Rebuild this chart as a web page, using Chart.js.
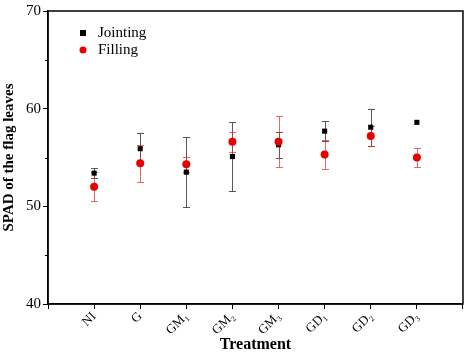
<!DOCTYPE html>
<html>
<head>
<meta charset="utf-8">
<script src="https://cdn.jsdelivr.net/npm/chart.js@4.4.1/dist/chart.umd.min.js"></script>
<style>
html,body{margin:0;padding:0;background:#fff;}
#wrap{width:474px;height:354px;}
</style>
</head>
<body>
<div id="wrap"><canvas id="c" width="474" height="354"></canvas></div>
<script>
const categories = ['NI', 'G', 'GM\u2081', 'GM\u2082', 'GM\u2083', 'GD\u2081', 'GD\u2082', 'GD\u2083'];
const jointing = [53.4, 55.9, 53.5, 55.1, 56.3, 57.7, 58.1, 58.6];
const jointingErr = [0.5, 1.6, 3.55, 3.5, 1.35, 1.0, 1.9, 0];
const filling = [52.0, 54.4, 54.3, 56.6, 56.6, 55.3, 57.2, 55.0];
const fillingErr = [1.5, 1.9, 0.8, 1.0, 2.6, 1.5, 1.0, 0.95];
const yTicks = [40, 50, 60, 70];
const yMinorTicks = [45, 55, 65];

const SERIF = '"Liberation Serif", "Times New Roman", serif';

function toPoints(vals) { return vals.map((v, i) => ({x: i + 1, y: v})); }

const errorBarPlugin = {
  id: 'errorBars',
  beforeDatasetsDraw(chart) {
    const ctx = chart.ctx;
    const xs = chart.scales.x, ys = chart.scales.y;
    chart.data.datasets.forEach(ds => {
      ctx.save();
      ctx.strokeStyle = ds.errColor;
      ctx.lineWidth = 1;
      ds.data.forEach((p, i) => {
        const e = ds.errors[i];
        if (!e) return;
        const x = Math.round(xs.getPixelForValue(p.x)) + 0.5;
        const yt = Math.round(ys.getPixelForValue(p.y + e)) + 0.5;
        const yb = Math.round(ys.getPixelForValue(p.y - e)) + 0.5;
        ctx.beginPath();
        ctx.moveTo(x, yt); ctx.lineTo(x, yb);
        ctx.moveTo(x - 3.5, yt); ctx.lineTo(x + 3.5, yt);
        ctx.moveTo(x - 3.5, yb); ctx.lineTo(x + 3.5, yb);
        ctx.stroke();
      });
      ctx.restore();
    });
  },
  afterDraw(chart) {
    const ctx = chart.ctx;
    const a = chart.chartArea;
    const ys = chart.scales.y;
    ctx.save();
    ctx.strokeStyle = '#000';
    ctx.lineWidth = 1.5;
    ctx.strokeRect(a.left, a.top, a.right - a.left, a.bottom - a.top);
    ctx.lineWidth = 1;
    yMinorTicks.forEach(v => {
      const y = Math.round(ys.getPixelForValue(v)) + 0.5;
      ctx.beginPath();
      ctx.moveTo(a.left - 3, y); ctx.lineTo(a.left, y);
      ctx.stroke();
    });
    // legend
    const lx = a.left + 35, ly = a.top + 22;
    chart.data.datasets.forEach((ds, i) => {
      const y = ly + i * 17;
      ctx.fillStyle = ds.backgroundColor;
      if (ds.pointStyle === 'rect') {
        ctx.fillRect(lx - 3, y - 3, 6, 6);
      } else {
        ctx.beginPath(); ctx.arc(lx, y, 3.5, 0, Math.PI * 2); ctx.fill();
      }
      ctx.fillStyle = '#000';
      ctx.font = '15px ' + SERIF;
      ctx.textBaseline = 'middle';
      ctx.textAlign = 'left';
      ctx.fillText(ds.label, lx + 15, y);
    });
    ctx.restore();
  }
};

new Chart(document.getElementById('c'), {
  type: 'scatter',
  data: {
    datasets: [
      {
        label: 'Jointing', data: toPoints(jointing), errors: jointingErr,
        pointStyle: 'rect', pointRadius: 3.6, backgroundColor: '#000', borderColor: '#000',
        borderWidth: 0, errColor: 'rgba(60,60,60,0.85)', order: 1
      },
      {
        label: 'Filling', data: toPoints(filling), errors: fillingErr,
        pointStyle: 'circle', pointRadius: 4, backgroundColor: '#e60000', borderColor: '#e60000',
        borderWidth: 0, errColor: 'rgba(225,40,40,0.7)', order: 0
      }
    ]
  },
  options: {
    responsive: false,
    animation: false,
    devicePixelRatio: 1,
    layout: {padding: {top: 9, right: 7, left: 0, bottom: 0}},
    plugins: {legend: {display: false}, tooltip: {enabled: false}},
    scales: {
      x: {
        type: 'linear', min: 0, max: categories.length + 1,
        afterBuildTicks(s) { s.ticks = Array.from({length: categories.length + 2}, (_, i) => ({value: i})); },
        afterFit(s) { s.height = 50; },
        grid: {drawOnChartArea: false, drawTicks: true, tickLength: 5, color: '#000', lineWidth: 1},
        border: {display: true, color: '#000', width: 1.5},
        ticks: {
          autoSkip: false, minRotation: 45, maxRotation: 45, padding: 0, color: '#000',
          font: {family: SERIF, size: 13},
          callback(v) { return (v >= 1 && v <= categories.length) ? categories[v - 1] : ''; }
        },
        title: {display: true, text: 'Treatment', color: '#000', font: {family: SERIF, size: 16, weight: 'bold'}, padding: {top: 0, bottom: 0}}
      },
      y: {
        min: 40, max: 70,
        afterBuildTicks(s) { s.ticks = yTicks.map(v => ({value: v})); },
        afterFit(s) { s.width = 48; },
        grid: {drawOnChartArea: false, drawTicks: true, tickLength: 5, color: '#000', lineWidth: 1},
        border: {display: true, color: '#000', width: 1.5},
        ticks: {padding: 2, color: '#000', font: {family: SERIF, size: 15}},
        title: {display: true, text: 'SPAD of the flag leaves', color: '#000', font: {family: SERIF, size: 15, weight: 'bold'}, padding: {top: 0, bottom: 0}}
      }
    }
  },
  plugins: [errorBarPlugin]
});
</script>
</body>
</html>
